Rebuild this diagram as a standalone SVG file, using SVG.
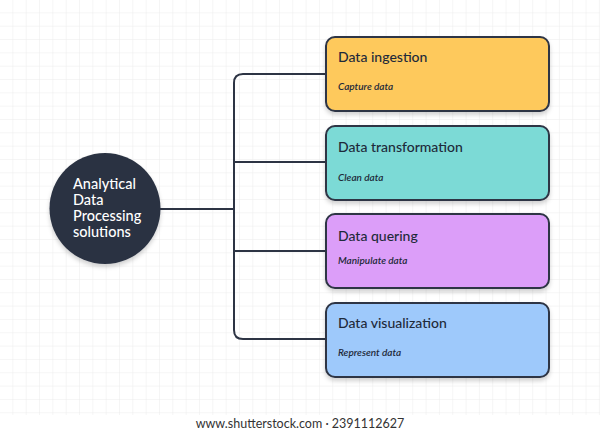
<svg xmlns="http://www.w3.org/2000/svg" width="600" height="434" viewBox="0 0 600 434">
<defs>
<pattern id="grid" width="13.33" height="13.33" patternUnits="userSpaceOnUse">
<path d="M13.33 0V13.33M0 13.33H13.33" fill="none" stroke="#ececec" stroke-width="1"/>
</pattern>
<filter id="sh" x="-10%" y="-10%" width="120%" height="130%">
<feDropShadow dx="0" dy="3" stdDeviation="2" flood-color="#000" flood-opacity="0.18"/>
</filter>
</defs>
<style>
.box{stroke:#2d3444;stroke-width:2;filter:url(#sh)}
.t{font-family:Lato,"Noto Sans",sans-serif;font-size:14px;font-weight:500;fill:#1e2a3a}
.s{font-family:Lato,"Noto Sans",sans-serif;font-size:10px;font-style:italic;font-weight:600;fill:#1e2a3a}
.c{font-family:Lato,"Noto Sans",sans-serif;font-size:14.5px;font-weight:500;fill:#ffffff}
.ln{fill:none;stroke:#2d3444;stroke-width:2}
</style>
<rect width="600" height="434" fill="#ffffff"/>
<rect width="600" height="415" fill="url(#grid)"/>
<g id="connectors">
<path class="ln" d="M160 209H234"/>
<path class="ln" d="M326 74H243Q234 74 234 83V330Q234 339 243 339H326"/>
<path class="ln" d="M234 162H326"/>
<path class="ln" d="M234 251H326"/>
</g>
<g id="center">
<circle cx="105" cy="208.5" r="55.5" fill="#2b3343" filter="url(#sh)"/>
<text class="c" x="73" y="188.5">Analytical</text>
<text class="c" x="73" y="204.5">Data</text>
<text class="c" x="73" y="220.5">Processing</text>
<text class="c" x="73" y="236.5">solutions</text>
</g>
<g id="n1">
<rect class="box" x="326" y="37" width="223" height="74" rx="9" fill="#fec95c"/>
<text class="t" x="338" y="62">Data ingestion</text>
<text class="s" x="338" y="90">Capture data</text>
</g>
<g id="n2">
<rect class="box" x="326" y="126" width="223" height="74" rx="9" fill="#7cdad6"/>
<text class="t" x="338" y="152">Data transformation</text>
<text class="s" x="338" y="181">Clean data</text>
</g>
<g id="n3">
<rect class="box" x="326" y="214" width="223" height="74" rx="9" fill="#dc9ef9"/>
<text class="t" x="338" y="241">Data quering</text>
<text class="s" x="338" y="264">Manipulate data</text>
</g>
<g id="n4">
<rect class="box" x="326" y="303" width="223" height="74" rx="9" fill="#9ec9fb"/>
<text class="t" x="338" y="328">Data visualization</text>
<text class="s" x="338" y="356">Represent data</text>
</g>
<text x="300" y="428" text-anchor="middle" font-family="Lato,'Open Sans',sans-serif" font-size="12.5" fill="#333333">www.shutterstock.com · 2391112627</text>
</svg>
